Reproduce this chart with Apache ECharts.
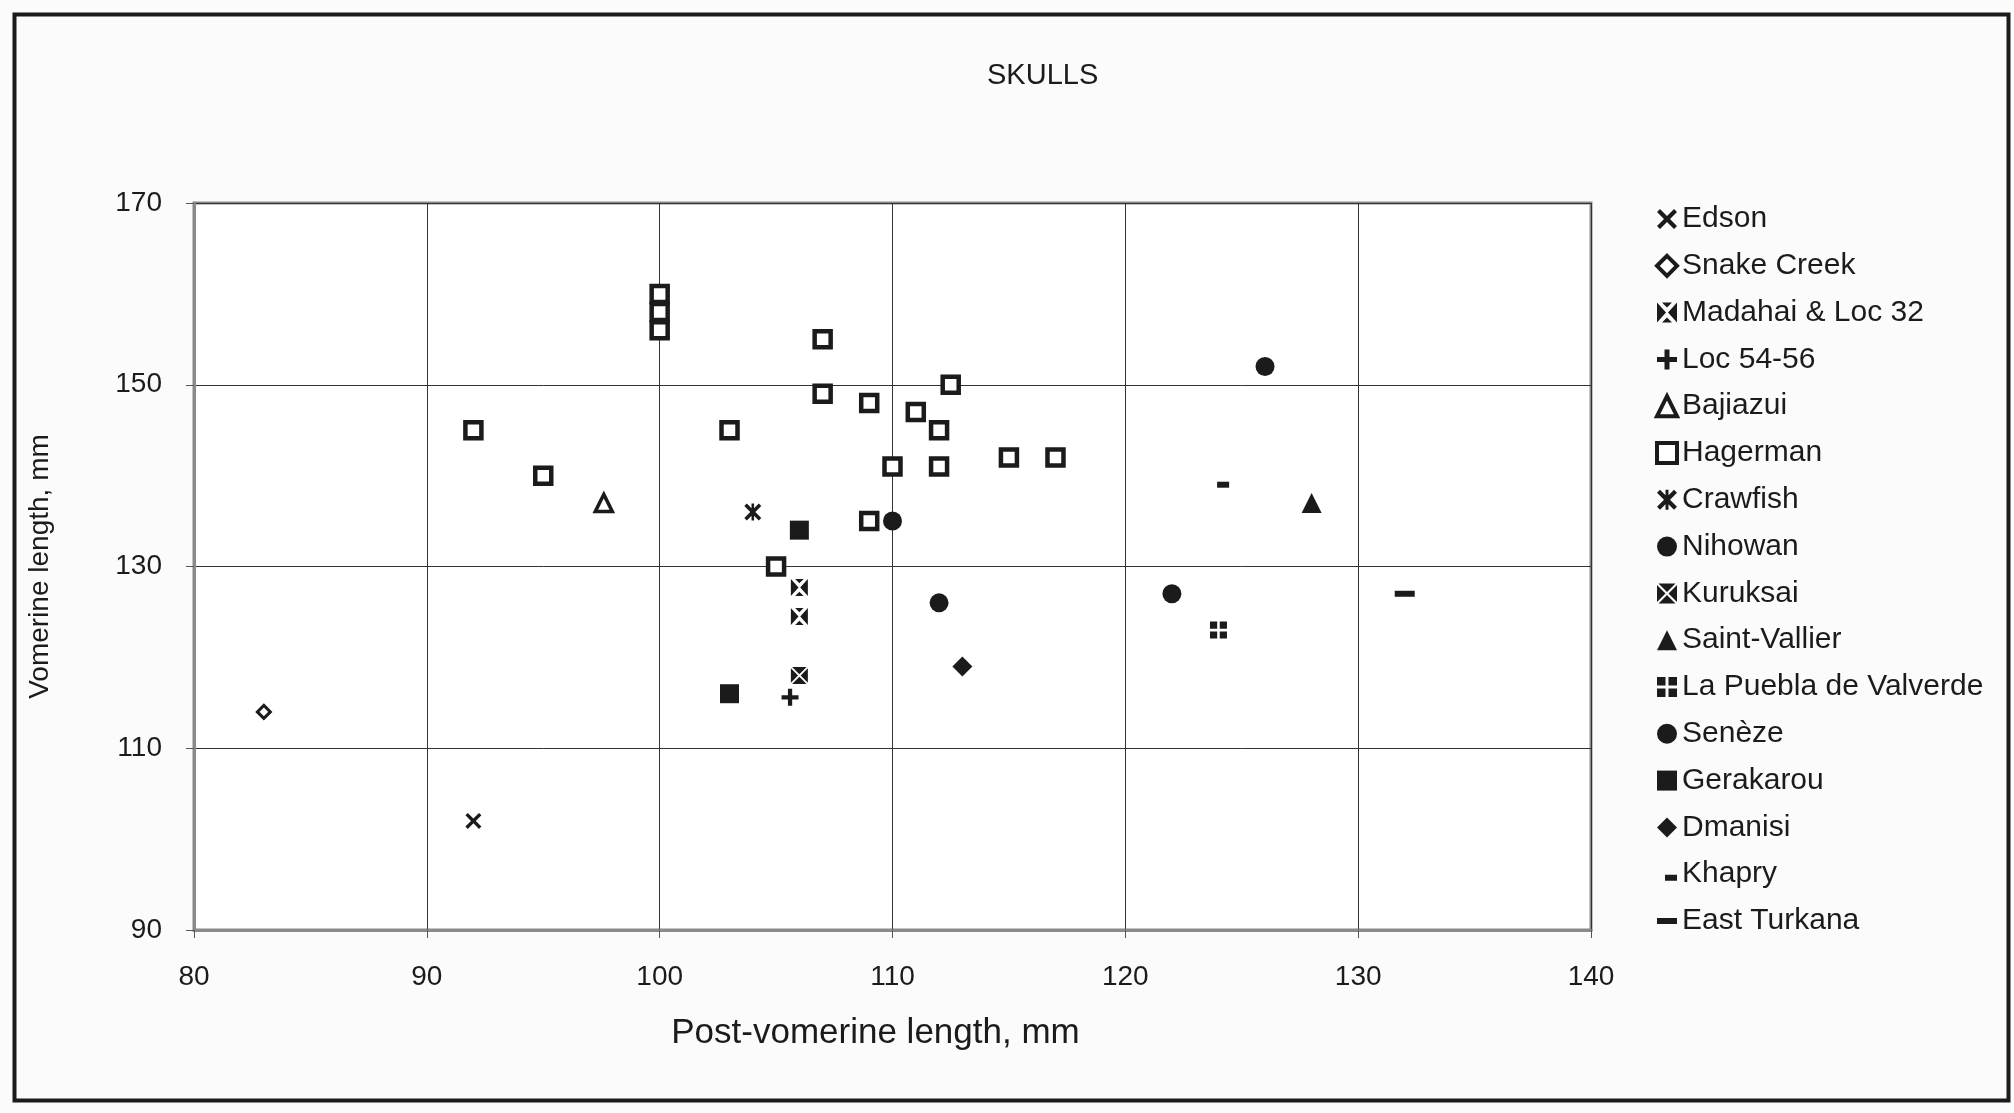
<!DOCTYPE html>
<html>
<head>
<meta charset="utf-8">
<script src="https://cdn.jsdelivr.net/npm/echarts@6/dist/echarts.min.js"></script>
<style>
  html, body { margin: 0; padding: 0; background: #fbfbfb; }
  #chart { width: 2014px; height: 1113px; }
</style>
</head>
<body>
<div id="chart"></div>
<script>
// [post-vomerine, vomerine] per locality
const edson = [[92, 102]];
const snakeCreek = [[83, 114]];
const madahai = [[106, 127.7], [106, 124.5]];
const loc5456 = [[105.6, 115.6]];
const bajiazui = [[97.6, 137]];
const hagerman = [
  [92, 145], [95, 140], [100, 160], [100, 158], [100, 156], [103, 145],
  [107, 155], [107, 149], [109, 148], [111, 147], [112.5, 150], [112, 145],
  [112, 141], [110, 141], [115, 142], [117, 142], [109, 135], [105, 130]
];
const crawfish = [[104, 136]];
const nihowan = [[110, 135], [112, 126]];
const kuruksai = [[106, 118]];
const saintVallier = [[128, 137]];
const laPuebla = [[124, 123]];
const seneze = [[122, 127], [126, 152]];
const gerakarou = [[106, 134], [103, 116]];
const dmanisi = [[113, 119]];
const khapry = [[124.2, 139]];
const eastTurkana = [[132, 127]];

const xTicks = [80, 90, 100, 110, 120, 130, 140];
const yTicks = [90, 110, 130, 150, 170];

const FONT = "'Liberation Sans', Arial, sans-serif";
const INK = "#1b1b1b";

// marker shapes, drawn in a 20x20 box
const ICON_X = "path://M0,3L3,0L10,7L17,0L20,3L13,10L20,17L17,20L10,13L3,20L0,17L7,10Z";
const ICON_PLUS = "path://M7.5,0H12.5V7.5H20V12.5H12.5V20H7.5V12.5H0V7.5H7.5Z";
const ICON_STAR = "path://M0,3L3,0L10,7L17,0L20,3L13,10L20,17L17,20L10,13L3,20L0,17L7,10Z M8.5,0H11.5V20H8.5Z";
const ICON_MADAHAI = "path://M0,0L9,10L0,20Z M20,0L11,10L20,20Z M5,0H15L10,5Z M5,20H15L10,15Z";
const ICON_KURUKSAI = "path://M1.5,0H18.5L10,8.5Z M1.5,20H18.5L10,11.5Z M0,1.5V18.5L8.5,10Z M20,1.5V18.5L11.5,10Z";
const ICON_PUEBLA = "path://M0,0H8.5V8.5H0Z M11.5,0H20V8.5H11.5Z M0,11.5H8.5V20H0Z M11.5,11.5H20V20H11.5Z";
const ICON_SHORT = "path://M0,0H10V5H0Z";
const ICON_LONG = "path://M0,0H10V3H0Z";
// legend version of the short dash, pushed to the right of its box
const LEGEND_SHORT = "path://M0,0H0.01V0.01H0Z M8,7H20V13H8Z";

function solid(name, data, symbol, size) {
  return { name, type: "scatter", data, symbol, symbolSize: size,
    itemStyle: { color: INK, opacity: 1 } };
}
function hollow(name, data, symbol, size, bw) {
  return { name, type: "scatter", data, symbol, symbolSize: size,
    itemStyle: { color: "#fff", borderColor: INK, borderWidth: bw, opacity: 1 } };
}

const series = [
  solid("Edson", edson, ICON_X, 16),
  hollow("Snake Creek", snakeCreek, "diamond", 13, 3),
  solid("Madahai & Loc 32", madahai, ICON_MADAHAI, 17),
  solid("Loc 54-56", loc5456, ICON_PLUS, 17),
  hollow("Bajiazui", bajiazui, "triangle", 17, 3.5),
  hollow("Hagerman", hagerman, "rect", 16, 4.5),
  solid("Crawfish", crawfish, ICON_STAR, 17),
  solid("Nihowan", nihowan, "circle", 19),
  solid("Kuruksai", kuruksai, ICON_KURUKSAI, 17),
  solid("Saint-Vallier", saintVallier, "triangle", 20),
  solid("La Puebla de Valverde", laPuebla, ICON_PUEBLA, 17),
  solid("Senèze", seneze, "circle", 19),
  solid("Gerakarou", gerakarou, "rect", 19),
  solid("Dmanisi", dmanisi, "diamond", 20),
  solid("Khapry", khapry, ICON_SHORT, [12, 6]),
  solid("East Turkana", eastTurkana, ICON_LONG, [20, 6])
];
series.forEach(s => { s.emphasis = { disabled: true }; s.z = 3; });

const legendData = series.map(s => {
  const item = { name: s.name };
  if (s.itemStyle.borderWidth) {
    item.itemStyle = { color: "#fff", borderColor: INK, borderWidth: 4 };
  }
  if (s.name === "Khapry") item.icon = LEGEND_SHORT;
  return item;
});

const chart = echarts.init(document.getElementById("chart"), null, { renderer: "canvas" });
chart.setOption({
  animation: false,
  backgroundColor: "#fbfbfb",
  textStyle: { fontFamily: FONT },
  title: {
    text: "SKULLS",
    left: 987, top: 61, padding: 0,
    textStyle: { fontFamily: FONT, fontSize: 29, fontWeight: "normal", color: INK }
  },
  legend: {
    orient: "vertical",
    left: 1655, top: 202, padding: 0,
    itemWidth: 20, itemHeight: 20, itemGap: 12.8,
    textStyle: { fontFamily: FONT, fontSize: 30, lineHeight: 34, color: INK },
    data: legendData,
    selectedMode: false
  },
  grid: {
    left: 194, right: 423, top: 203, bottom: 183,
    show: true, backgroundColor: "#fff", borderColor: "#8a8a8a", borderWidth: 3
  },
  xAxis: {
    type: "value", min: xTicks[0], max: xTicks[xTicks.length - 1], interval: 10,
    name: "Post-vomerine length, mm", nameLocation: "middle", nameGap: 86,
    nameTextStyle: { fontFamily: FONT, fontSize: 35, color: INK, padding: [0, 34, 0, 0] },
    axisLine: { show: true, onZero: false, lineStyle: { color: "#8a8a8a", width: 3 } },
    axisTick: { show: true, length: 8, lineStyle: { color: "#555", width: 1 } },
    axisLabel: { margin: 33, fontFamily: FONT, fontSize: 28, color: INK },
    splitLine: { show: true, lineStyle: { color: "#333", width: 1 } }
  },
  yAxis: {
    type: "value", min: yTicks[0], max: yTicks[yTicks.length - 1], interval: 20,
    name: "Vomerine length, mm", nameLocation: "middle", nameGap: 140,
    nameTextStyle: { fontFamily: FONT, fontSize: 28, color: INK },
    axisLine: { show: true, onZero: false, lineStyle: { color: "#8a8a8a", width: 3 } },
    axisTick: { show: true, length: 8, lineStyle: { color: "#555", width: 1 } },
    axisLabel: { margin: 32, fontFamily: FONT, fontSize: 28, color: INK },
    splitLine: { show: true, lineStyle: { color: "#333", width: 1 } }
  },
  graphic: [{
    type: "rect", left: 12, top: 12, z: 100, silent: true,
    shape: { width: 1994, height: 1086 },
    style: { fill: "none", stroke: INK, lineWidth: 4 }
  }],
  series
});
</script>
</body>
</html>
